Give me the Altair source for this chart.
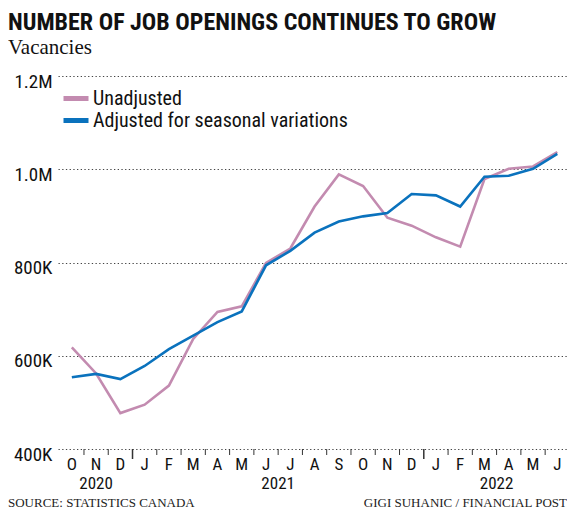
import altair as alt
import pandas as pd

months = ["O", "N", "D", "J", "F", "M", "A", "M", "J", "J", "A", "S",
          "O", "N", "D", "J", "F", "M", "A", "M", "J"]
unadjusted = [618, 562, 477, 495, 536, 636, 694, 706, 799, 830, 920, 989,
              964, 896, 879, 854, 834, 979, 1001, 1006, 1037]
adjusted = [554, 561, 550, 578, 614, 643, 672, 695, 794, 825, 864, 888,
            899, 906, 947, 944, 920, 984, 986, 1001, 1033]
years = ["2020", "2021", "2022"]
year_centers = [1, 8.5, 17.5]
boundaries = [0.5 + i for i in range(20)]
year_boundaries = [2.5, 14.5]
y_ticks = [400000, 600000, 800000, 1000000, 1200000]

S1 = "Unadjusted"
S2 = "Adjusted for seasonal variations"

rows = []
for i, m in enumerate(months):
    rows.append({"idx": i, "series": S1, "value": unadjusted[i] * 1000})
    rows.append({"idx": i, "series": S2, "value": adjusted[i] * 1000})
df = pd.DataFrame(rows)

W, H = 509, 373
SANS = "Liberation Sans Narrow, Roboto Condensed, Roboto, sans-serif"
SERIF = "Liberation Serif, DejaVu Serif, serif"

xscale = alt.Scale(domain=[-0.57, 20.4], nice=False, zero=False)

lines = alt.Chart(df).mark_line(strokeWidth=2.6).encode(
    x=alt.X("idx:Q", scale=xscale,
            axis=alt.Axis(title=None, labels=False, ticks=False, grid=False,
                          domainColor="#333333", domainWidth=1.5)),
    y=alt.Y("value:Q",
            scale=alt.Scale(domain=[400000, 1200000], nice=False, zero=False),
            axis=alt.Axis(title=None, values=y_ticks, domain=False, ticks=False,
                          grid=True, gridDash=[1.3, 2.4], gridColor="#444444",
                          gridWidth=1.2,
                          labelFont=SANS, labelFontSize=19, labelColor="#111111",
                          labelPadding=6, labelBaseline="middle", labelOffset=5,
                          labelExpr="datum.value >= 1000000 ? format(datum.value/1000000, '.1f') + 'M' : format(datum.value/1000, 'd') + 'K'")),
    color=alt.Color("series:N",
                    scale=alt.Scale(domain=[S1, S2], range=["#c38bb0", "#0a72bd"]),
                    legend=alt.Legend(title=None, orient="none", legendX=3, legendY=12,
                                      symbolType="stroke", symbolSize=625,
                                      symbolStrokeWidth=5, labelFont=SANS,
                                      labelFontSize=20, labelColor="#111111",
                                      labelOffset=2, labelLimit=400,
                                      clipHeight=21, rowPadding=1)),
    order=alt.Order("idx:Q"),
)

tick_df = pd.DataFrame({"b": boundaries,
                        "len": [10 if b in year_boundaries else 6 for b in boundaries]})
ticks_short = alt.Chart(tick_df[tick_df["len"] == 6]).mark_rule(
    color="#333333", strokeWidth=1).encode(
    x=alt.X("b:Q", scale=xscale, axis=None), y=alt.value(H), y2=alt.value(H + 6))
ticks_long = alt.Chart(tick_df[tick_df["len"] == 10]).mark_rule(
    color="#333333", strokeWidth=1.5).encode(
    x=alt.X("b:Q", scale=xscale, axis=None), y=alt.value(H), y2=alt.value(H + 10))

mdf = pd.DataFrame({"idx": list(range(len(months))), "m": months})
month_labels = alt.Chart(mdf).mark_text(
    font=SANS, fontSize=17, color="#111111", baseline="alphabetic").encode(
    x=alt.X("idx:Q", scale=xscale, axis=None), y=alt.value(H + 21), text="m:N")

ydf = pd.DataFrame({"c": year_centers, "y": years})
year_labels = alt.Chart(ydf).mark_text(
    font=SANS, fontSize=17, color="#111111", baseline="alphabetic").encode(
    x=alt.X("c:Q", scale=xscale, axis=None), y=alt.value(H + 40), text="y:N")

src = alt.Chart(pd.DataFrame({"t": ["SOURCE: STATISTICS CANADA"]})).mark_text(
    font=SERIF, fontSize=13, color="#222222", align="left", baseline="alphabetic").encode(
    x=alt.value(-50), y=alt.value(H + 58), text="t:N")
credit = alt.Chart(pd.DataFrame({"t": ["GIGI SUHANIC / FINANCIAL POST"]})).mark_text(
    font=SERIF, fontSize=13, color="#222222", align="right", baseline="alphabetic").encode(
    x=alt.value(W), y=alt.value(H + 58), text="t:N")

chart = alt.layer(lines, ticks_short, ticks_long, month_labels, year_labels, src, credit).properties(
    width=W, height=H,
    background="white",
    title=alt.TitleParams(
        text="NUMBER OF JOB OPENINGS CONTINUES TO GROW",
        subtitle="Vacancies",
        anchor="start", frame="group", dx=-50,
        font="Liberation Sans Narrow, Roboto Condensed, Roboto, sans-serif",
        fontSize=24, fontWeight="bold", color="#111111",
        subtitleFont=SERIF, subtitleFontSize=21, subtitleColor="#111111",
        subtitlePadding=2, offset=14),
    autosize=alt.AutoSizeParams(type="none"),
    padding={"left": 50, "top": 68, "right": 0, "bottom": 60},
).configure_view(stroke=None)

chart.save("out.html", embed_options={"renderer": "svg", "actions": False})
